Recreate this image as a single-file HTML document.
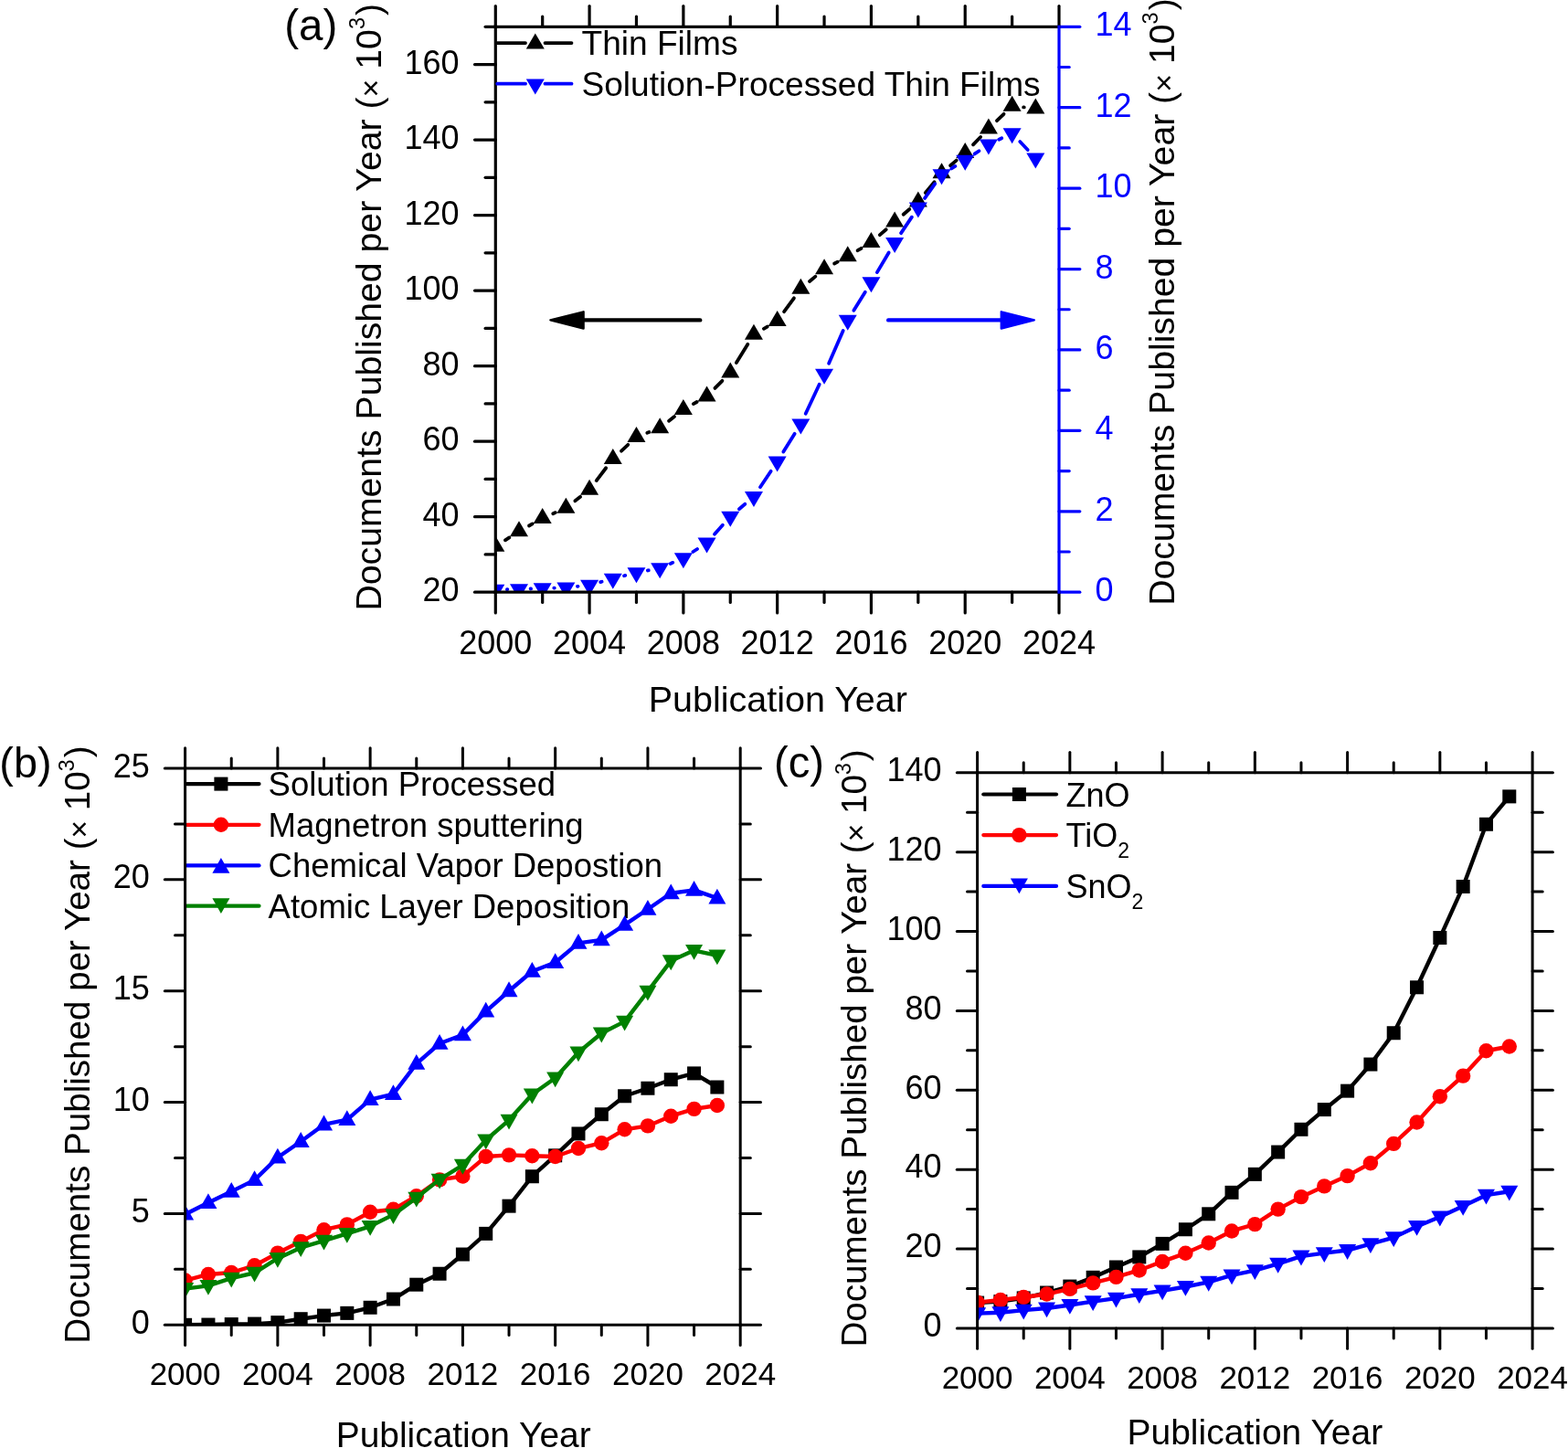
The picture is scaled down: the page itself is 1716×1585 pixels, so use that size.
<!DOCTYPE html>
<html><head><meta charset="utf-8"><title>Documents published per year</title>
<style>html,body{margin:0;padding:0;background:#fff;}svg{display:block;}</style>
</head><body>
<svg width="1716" height="1585" viewBox="0 0 1716 1585" style="font-family:'Liberation Sans',Arial,sans-serif">
<rect width="1716" height="1585" fill="#fff"/>
<defs>
<clipPath id="ca"><rect x="542.3" y="29.3" width="616.7" height="618.9"/></clipPath>
<clipPath id="cb"><rect x="202.6" y="841" width="607.6" height="609.3"/></clipPath>
<clipPath id="cc"><rect x="1069.6" y="845.8" width="607.5" height="608.1"/></clipPath>
</defs>
<g id="chart-a">
<g clip-path="url(#ca)">
<line x1="552.9" y1="591.33" x2="557.39" y2="588.44" stroke="#000000" stroke-width="3.8" stroke-linecap="round"/>
<line x1="579.01" y1="575.51" x2="582.68" y2="573.46" stroke="#000000" stroke-width="3.8" stroke-linecap="round"/>
<line x1="605.23" y1="562.26" x2="607.85" y2="561.11" stroke="#000000" stroke-width="3.8" stroke-linecap="round"/>
<line x1="629.35" y1="548.32" x2="635.12" y2="543.85" stroke="#000000" stroke-width="3.8" stroke-linecap="round"/>
<line x1="652.69" y1="526.09" x2="663.17" y2="512.27" stroke="#000000" stroke-width="3.8" stroke-linecap="round"/>
<line x1="679.99" y1="493.63" x2="687.27" y2="486.83" stroke="#000000" stroke-width="3.8" stroke-linecap="round"/>
<line x1="708.28" y1="473.82" x2="710.37" y2="473.04" stroke="#000000" stroke-width="3.8" stroke-linecap="round"/>
<line x1="732.04" y1="460.8" x2="738" y2="456.07" stroke="#000000" stroke-width="3.8" stroke-linecap="round"/>
<line x1="758.86" y1="442.07" x2="762.57" y2="439.99" stroke="#000000" stroke-width="3.8" stroke-linecap="round"/>
<line x1="782.42" y1="424.87" x2="790.4" y2="416.8" stroke="#000000" stroke-width="3.8" stroke-linecap="round"/>
<line x1="805.86" y1="397.1" x2="818.36" y2="376.77" stroke="#000000" stroke-width="3.8" stroke-linecap="round"/>
<line x1="835.89" y1="359.78" x2="839.71" y2="357.59" stroke="#000000" stroke-width="3.8" stroke-linecap="round"/>
<line x1="858.08" y1="341.16" x2="868.92" y2="326.31" stroke="#000000" stroke-width="3.8" stroke-linecap="round"/>
<line x1="885.99" y1="308.03" x2="892.4" y2="302.64" stroke="#000000" stroke-width="3.8" stroke-linecap="round"/>
<line x1="913.12" y1="288.54" x2="916.66" y2="286.63" stroke="#000000" stroke-width="3.8" stroke-linecap="round"/>
<line x1="938.58" y1="274.22" x2="942.59" y2="271.85" stroke="#000000" stroke-width="3.8" stroke-linecap="round"/>
<line x1="962.91" y1="257.13" x2="969.65" y2="251.23" stroke="#000000" stroke-width="3.8" stroke-linecap="round"/>
<line x1="988.66" y1="234.7" x2="995.29" y2="228.97" stroke="#000000" stroke-width="3.8" stroke-linecap="round"/>
<line x1="1012.84" y1="211.01" x2="1022.51" y2="199.26" stroke="#000000" stroke-width="3.8" stroke-linecap="round"/>
<line x1="1040.06" y1="181.3" x2="1046.68" y2="175.57" stroke="#000000" stroke-width="3.8" stroke-linecap="round"/>
<line x1="1065" y1="158.3" x2="1073.12" y2="149.96" stroke="#000000" stroke-width="3.8" stroke-linecap="round"/>
<line x1="1090.96" y1="132.17" x2="1098.56" y2="124.8" stroke="#000000" stroke-width="3.8" stroke-linecap="round"/>
<line x1="1120.14" y1="117.35" x2="1120.77" y2="117.42" stroke="#000000" stroke-width="3.8" stroke-linecap="round"/>
<line x1="554.9" y1="645.15" x2="555.4" y2="645.14" stroke="#0000FF" stroke-width="3.8" stroke-linecap="round"/>
<line x1="580.59" y1="644.49" x2="581.1" y2="644.47" stroke="#0000FF" stroke-width="3.8" stroke-linecap="round"/>
<line x1="606.28" y1="643.61" x2="606.79" y2="643.59" stroke="#0000FF" stroke-width="3.8" stroke-linecap="round"/>
<line x1="631.92" y1="641.86" x2="632.55" y2="641.8" stroke="#0000FF" stroke-width="3.8" stroke-linecap="round"/>
<line x1="657.23" y1="637.16" x2="658.63" y2="636.77" stroke="#0000FF" stroke-width="3.8" stroke-linecap="round"/>
<line x1="682.98" y1="630.28" x2="684.27" y2="629.95" stroke="#0000FF" stroke-width="3.8" stroke-linecap="round"/>
<line x1="708.86" y1="624.46" x2="709.79" y2="624.28" stroke="#0000FF" stroke-width="3.8" stroke-linecap="round"/>
<line x1="733.75" y1="616.96" x2="736.29" y2="615.86" stroke="#0000FF" stroke-width="3.8" stroke-linecap="round"/>
<line x1="758.41" y1="603.99" x2="763.02" y2="600.98" stroke="#0000FF" stroke-width="3.8" stroke-linecap="round"/>
<line x1="781.96" y1="584.69" x2="790.86" y2="574.74" stroke="#0000FF" stroke-width="3.8" stroke-linecap="round"/>
<line x1="808.89" y1="557.23" x2="815.32" y2="551.81" stroke="#0000FF" stroke-width="3.8" stroke-linecap="round"/>
<line x1="831.95" y1="533.21" x2="843.65" y2="515.71" stroke="#0000FF" stroke-width="3.8" stroke-linecap="round"/>
<line x1="857.33" y1="494.55" x2="869.67" y2="474.8" stroke="#0000FF" stroke-width="3.8" stroke-linecap="round"/>
<line x1="881.69" y1="452.71" x2="896.69" y2="420.71" stroke="#0000FF" stroke-width="3.8" stroke-linecap="round"/>
<line x1="907.09" y1="397.75" x2="922.69" y2="362.05" stroke="#0000FF" stroke-width="3.8" stroke-linecap="round"/>
<line x1="934.36" y1="339.79" x2="946.81" y2="319.67" stroke="#0000FF" stroke-width="3.8" stroke-linecap="round"/>
<line x1="959.86" y1="298.11" x2="972.7" y2="276.46" stroke="#0000FF" stroke-width="3.8" stroke-linecap="round"/>
<line x1="986.13" y1="255.15" x2="997.83" y2="237.64" stroke="#0000FF" stroke-width="3.8" stroke-linecap="round"/>
<line x1="1012.11" y1="216.89" x2="1023.23" y2="201.2" stroke="#0000FF" stroke-width="3.8" stroke-linecap="round"/>
<line x1="1041.32" y1="184.42" x2="1045.42" y2="181.94" stroke="#0000FF" stroke-width="3.8" stroke-linecap="round"/>
<line x1="1066.68" y1="168.42" x2="1071.45" y2="165.22" stroke="#0000FF" stroke-width="3.8" stroke-linecap="round"/>
<line x1="1093.26" y1="152.74" x2="1096.26" y2="151.29" stroke="#0000FF" stroke-width="3.8" stroke-linecap="round"/>
<line x1="1116.23" y1="155.02" x2="1124.69" y2="164.04" stroke="#0000FF" stroke-width="3.8" stroke-linecap="round"/>
<path d="M542.3 586.8L552.3 603.8L532.3 603.8Z" fill="#000000"/>
<path d="M568 570.3L578 587.3L558 587.3Z" fill="#000000"/>
<path d="M593.69 556L603.69 573L583.69 573Z" fill="#000000"/>
<path d="M619.39 544.7L629.39 561.7L609.39 561.7Z" fill="#000000"/>
<path d="M645.08 524.8L655.08 541.8L635.08 541.8Z" fill="#000000"/>
<path d="M670.78 490.9L680.78 507.9L660.78 507.9Z" fill="#000000"/>
<path d="M696.47 466.9L706.47 483.9L686.47 483.9Z" fill="#000000"/>
<path d="M722.17 457.3L732.17 474.3L712.17 474.3Z" fill="#000000"/>
<path d="M747.87 436.9L757.87 453.9L737.87 453.9Z" fill="#000000"/>
<path d="M773.56 422.5L783.56 439.5L763.56 439.5Z" fill="#000000"/>
<path d="M799.26 396.5L809.26 413.5L789.26 413.5Z" fill="#000000"/>
<path d="M824.95 354.7L834.95 371.7L814.95 371.7Z" fill="#000000"/>
<path d="M850.65 340L860.65 357L840.65 357Z" fill="#000000"/>
<path d="M876.35 304.8L886.35 321.8L866.35 321.8Z" fill="#000000"/>
<path d="M902.04 283.2L912.04 300.2L892.04 300.2Z" fill="#000000"/>
<path d="M927.74 269.3L937.74 286.3L917.74 286.3Z" fill="#000000"/>
<path d="M953.43 254.1L963.43 271.1L943.43 271.1Z" fill="#000000"/>
<path d="M979.13 231.6L989.13 248.6L969.13 248.6Z" fill="#000000"/>
<path d="M1004.83 209.4L1014.83 226.4L994.83 226.4Z" fill="#000000"/>
<path d="M1030.52 178.2L1040.52 195.2L1020.52 195.2Z" fill="#000000"/>
<path d="M1056.22 156L1066.22 173L1046.22 173Z" fill="#000000"/>
<path d="M1081.91 129.6L1091.91 146.6L1071.91 146.6Z" fill="#000000"/>
<path d="M1107.61 104.7L1117.61 121.7L1097.61 121.7Z" fill="#000000"/>
<path d="M1133.3 107.4L1143.3 124.4L1123.3 124.4Z" fill="#000000"/>
<path d="M532.3 639.7L552.3 639.7L542.3 656.7Z" fill="#0000FF"/>
<path d="M558 639.26L578 639.26L568 656.26Z" fill="#0000FF"/>
<path d="M583.69 638.37L603.69 638.37L593.69 655.37Z" fill="#0000FF"/>
<path d="M609.39 637.49L629.39 637.49L619.39 654.49Z" fill="#0000FF"/>
<path d="M635.08 634.84L655.08 634.84L645.08 651.84Z" fill="#0000FF"/>
<path d="M660.78 627.76L680.78 627.76L670.78 644.76Z" fill="#0000FF"/>
<path d="M686.47 621.13L706.47 621.13L696.47 638.13Z" fill="#0000FF"/>
<path d="M712.17 616.27L732.17 616.27L722.17 633.27Z" fill="#0000FF"/>
<path d="M737.87 605.22L757.87 605.22L747.87 622.22Z" fill="#0000FF"/>
<path d="M763.56 588.42L783.56 588.42L773.56 605.42Z" fill="#0000FF"/>
<path d="M789.26 559.69L809.26 559.69L799.26 576.69Z" fill="#0000FF"/>
<path d="M814.95 538.02L834.95 538.02L824.95 555.02Z" fill="#0000FF"/>
<path d="M840.65 499.56L860.65 499.56L850.65 516.56Z" fill="#0000FF"/>
<path d="M866.35 458.45L886.35 458.45L876.35 475.45Z" fill="#0000FF"/>
<path d="M892.04 403.63L912.04 403.63L902.04 420.63Z" fill="#0000FF"/>
<path d="M917.74 344.84L937.74 344.84L927.74 361.84Z" fill="#0000FF"/>
<path d="M943.43 303.28L963.43 303.28L953.43 320.28Z" fill="#0000FF"/>
<path d="M969.13 259.96L989.13 259.96L979.13 276.96Z" fill="#0000FF"/>
<path d="M994.83 221.5L1014.83 221.5L1004.83 238.5Z" fill="#0000FF"/>
<path d="M1020.52 185.25L1040.52 185.25L1030.52 202.25Z" fill="#0000FF"/>
<path d="M1046.22 169.78L1066.22 169.78L1056.22 186.78Z" fill="#0000FF"/>
<path d="M1071.91 152.54L1091.91 152.54L1081.91 169.54Z" fill="#0000FF"/>
<path d="M1097.61 140.16L1117.61 140.16L1107.61 157.16Z" fill="#0000FF"/>
<path d="M1123.3 167.57L1143.3 167.57L1133.3 184.57Z" fill="#0000FF"/>
</g>
<line x1="542.3" y1="648.2" x2="542.3" y2="671" stroke="#000" stroke-width="3.2" stroke-linecap="round"/>
<line x1="542.3" y1="29.3" x2="542.3" y2="6.5" stroke="#000" stroke-width="3.2" stroke-linecap="round"/>
<line x1="593.69" y1="648.2" x2="593.69" y2="659.4" stroke="#000" stroke-width="3.2" stroke-linecap="round"/>
<line x1="593.69" y1="29.3" x2="593.69" y2="18.1" stroke="#000" stroke-width="3.2" stroke-linecap="round"/>
<line x1="645.08" y1="648.2" x2="645.08" y2="671" stroke="#000" stroke-width="3.2" stroke-linecap="round"/>
<line x1="645.08" y1="29.3" x2="645.08" y2="6.5" stroke="#000" stroke-width="3.2" stroke-linecap="round"/>
<line x1="696.47" y1="648.2" x2="696.47" y2="659.4" stroke="#000" stroke-width="3.2" stroke-linecap="round"/>
<line x1="696.47" y1="29.3" x2="696.47" y2="18.1" stroke="#000" stroke-width="3.2" stroke-linecap="round"/>
<line x1="747.87" y1="648.2" x2="747.87" y2="671" stroke="#000" stroke-width="3.2" stroke-linecap="round"/>
<line x1="747.87" y1="29.3" x2="747.87" y2="6.5" stroke="#000" stroke-width="3.2" stroke-linecap="round"/>
<line x1="799.26" y1="648.2" x2="799.26" y2="659.4" stroke="#000" stroke-width="3.2" stroke-linecap="round"/>
<line x1="799.26" y1="29.3" x2="799.26" y2="18.1" stroke="#000" stroke-width="3.2" stroke-linecap="round"/>
<line x1="850.65" y1="648.2" x2="850.65" y2="671" stroke="#000" stroke-width="3.2" stroke-linecap="round"/>
<line x1="850.65" y1="29.3" x2="850.65" y2="6.5" stroke="#000" stroke-width="3.2" stroke-linecap="round"/>
<line x1="902.04" y1="648.2" x2="902.04" y2="659.4" stroke="#000" stroke-width="3.2" stroke-linecap="round"/>
<line x1="902.04" y1="29.3" x2="902.04" y2="18.1" stroke="#000" stroke-width="3.2" stroke-linecap="round"/>
<line x1="953.43" y1="648.2" x2="953.43" y2="671" stroke="#000" stroke-width="3.2" stroke-linecap="round"/>
<line x1="953.43" y1="29.3" x2="953.43" y2="6.5" stroke="#000" stroke-width="3.2" stroke-linecap="round"/>
<line x1="1004.83" y1="648.2" x2="1004.83" y2="659.4" stroke="#000" stroke-width="3.2" stroke-linecap="round"/>
<line x1="1004.83" y1="29.3" x2="1004.83" y2="18.1" stroke="#000" stroke-width="3.2" stroke-linecap="round"/>
<line x1="1056.22" y1="648.2" x2="1056.22" y2="671" stroke="#000" stroke-width="3.2" stroke-linecap="round"/>
<line x1="1056.22" y1="29.3" x2="1056.22" y2="6.5" stroke="#000" stroke-width="3.2" stroke-linecap="round"/>
<line x1="1107.61" y1="648.2" x2="1107.61" y2="659.4" stroke="#000" stroke-width="3.2" stroke-linecap="round"/>
<line x1="1107.61" y1="29.3" x2="1107.61" y2="18.1" stroke="#000" stroke-width="3.2" stroke-linecap="round"/>
<line x1="1159" y1="648.2" x2="1159" y2="671" stroke="#000" stroke-width="3.2" stroke-linecap="round"/>
<line x1="1159" y1="29.3" x2="1159" y2="6.5" stroke="#000" stroke-width="3.2" stroke-linecap="round"/>
<line x1="519.5" y1="648.2" x2="542.3" y2="648.2" stroke="#000" stroke-width="3.2" stroke-linecap="round"/>
<line x1="531.1" y1="606.94" x2="542.3" y2="606.94" stroke="#000" stroke-width="3.2" stroke-linecap="round"/>
<line x1="519.5" y1="565.68" x2="542.3" y2="565.68" stroke="#000" stroke-width="3.2" stroke-linecap="round"/>
<line x1="531.1" y1="524.42" x2="542.3" y2="524.42" stroke="#000" stroke-width="3.2" stroke-linecap="round"/>
<line x1="519.5" y1="483.16" x2="542.3" y2="483.16" stroke="#000" stroke-width="3.2" stroke-linecap="round"/>
<line x1="531.1" y1="441.9" x2="542.3" y2="441.9" stroke="#000" stroke-width="3.2" stroke-linecap="round"/>
<line x1="519.5" y1="400.64" x2="542.3" y2="400.64" stroke="#000" stroke-width="3.2" stroke-linecap="round"/>
<line x1="531.1" y1="359.38" x2="542.3" y2="359.38" stroke="#000" stroke-width="3.2" stroke-linecap="round"/>
<line x1="519.5" y1="318.12" x2="542.3" y2="318.12" stroke="#000" stroke-width="3.2" stroke-linecap="round"/>
<line x1="531.1" y1="276.86" x2="542.3" y2="276.86" stroke="#000" stroke-width="3.2" stroke-linecap="round"/>
<line x1="519.5" y1="235.6" x2="542.3" y2="235.6" stroke="#000" stroke-width="3.2" stroke-linecap="round"/>
<line x1="531.1" y1="194.34" x2="542.3" y2="194.34" stroke="#000" stroke-width="3.2" stroke-linecap="round"/>
<line x1="519.5" y1="153.08" x2="542.3" y2="153.08" stroke="#000" stroke-width="3.2" stroke-linecap="round"/>
<line x1="531.1" y1="111.82" x2="542.3" y2="111.82" stroke="#000" stroke-width="3.2" stroke-linecap="round"/>
<line x1="519.5" y1="70.56" x2="542.3" y2="70.56" stroke="#000" stroke-width="3.2" stroke-linecap="round"/>
<line x1="531.1" y1="29.3" x2="542.3" y2="29.3" stroke="#000" stroke-width="3.2" stroke-linecap="round"/>
<line x1="1159" y1="648.2" x2="1181.8" y2="648.2" stroke="#0000FF" stroke-width="3.2" stroke-linecap="round"/>
<line x1="1159" y1="603.99" x2="1170.2" y2="603.99" stroke="#0000FF" stroke-width="3.2" stroke-linecap="round"/>
<line x1="1159" y1="559.79" x2="1181.8" y2="559.79" stroke="#0000FF" stroke-width="3.2" stroke-linecap="round"/>
<line x1="1159" y1="515.58" x2="1170.2" y2="515.58" stroke="#0000FF" stroke-width="3.2" stroke-linecap="round"/>
<line x1="1159" y1="471.37" x2="1181.8" y2="471.37" stroke="#0000FF" stroke-width="3.2" stroke-linecap="round"/>
<line x1="1159" y1="427.16" x2="1170.2" y2="427.16" stroke="#0000FF" stroke-width="3.2" stroke-linecap="round"/>
<line x1="1159" y1="382.96" x2="1181.8" y2="382.96" stroke="#0000FF" stroke-width="3.2" stroke-linecap="round"/>
<line x1="1159" y1="338.75" x2="1170.2" y2="338.75" stroke="#0000FF" stroke-width="3.2" stroke-linecap="round"/>
<line x1="1159" y1="294.54" x2="1181.8" y2="294.54" stroke="#0000FF" stroke-width="3.2" stroke-linecap="round"/>
<line x1="1159" y1="250.34" x2="1170.2" y2="250.34" stroke="#0000FF" stroke-width="3.2" stroke-linecap="round"/>
<line x1="1159" y1="206.13" x2="1181.8" y2="206.13" stroke="#0000FF" stroke-width="3.2" stroke-linecap="round"/>
<line x1="1159" y1="161.92" x2="1170.2" y2="161.92" stroke="#0000FF" stroke-width="3.2" stroke-linecap="round"/>
<line x1="1159" y1="117.71" x2="1181.8" y2="117.71" stroke="#0000FF" stroke-width="3.2" stroke-linecap="round"/>
<line x1="1159" y1="73.51" x2="1170.2" y2="73.51" stroke="#0000FF" stroke-width="3.2" stroke-linecap="round"/>
<line x1="1159" y1="29.3" x2="1181.8" y2="29.3" stroke="#0000FF" stroke-width="3.2" stroke-linecap="round"/>
<line x1="540.7" y1="648.2" x2="1160.6" y2="648.2" stroke="#000" stroke-width="3.2" stroke-linecap="butt"/>
<line x1="540.7" y1="29.3" x2="1160.6" y2="29.3" stroke="#000" stroke-width="3.2" stroke-linecap="butt"/>
<line x1="542.3" y1="27.7" x2="542.3" y2="649.8" stroke="#000" stroke-width="3.2" stroke-linecap="butt"/>
<line x1="1159" y1="27.7" x2="1159" y2="649.8" stroke="#0000FF" stroke-width="3.2" stroke-linecap="butt"/>
<text x="542.3" y="715.5" font-size="36" text-anchor="middle" fill="#000">2000</text>
<text x="645.08" y="715.5" font-size="36" text-anchor="middle" fill="#000">2004</text>
<text x="747.87" y="715.5" font-size="36" text-anchor="middle" fill="#000">2008</text>
<text x="850.65" y="715.5" font-size="36" text-anchor="middle" fill="#000">2012</text>
<text x="953.43" y="715.5" font-size="36" text-anchor="middle" fill="#000">2016</text>
<text x="1056.22" y="715.5" font-size="36" text-anchor="middle" fill="#000">2020</text>
<text x="1159" y="715.5" font-size="36" text-anchor="middle" fill="#000">2024</text>
<text x="502.6" y="658.3" font-size="36" text-anchor="end" fill="#000">20</text>
<text x="502.6" y="575.78" font-size="36" text-anchor="end" fill="#000">40</text>
<text x="502.6" y="493.26" font-size="36" text-anchor="end" fill="#000">60</text>
<text x="502.6" y="410.74" font-size="36" text-anchor="end" fill="#000">80</text>
<text x="502.6" y="328.22" font-size="36" text-anchor="end" fill="#000">100</text>
<text x="502.6" y="245.7" font-size="36" text-anchor="end" fill="#000">120</text>
<text x="502.6" y="163.18" font-size="36" text-anchor="end" fill="#000">140</text>
<text x="502.6" y="80.66" font-size="36" text-anchor="end" fill="#000">160</text>
<text x="1198.5" y="658.3" font-size="36" text-anchor="start" fill="#0000FF">0</text>
<text x="1198.5" y="569.89" font-size="36" text-anchor="start" fill="#0000FF">2</text>
<text x="1198.5" y="481.47" font-size="36" text-anchor="start" fill="#0000FF">4</text>
<text x="1198.5" y="393.06" font-size="36" text-anchor="start" fill="#0000FF">6</text>
<text x="1198.5" y="304.64" font-size="36" text-anchor="start" fill="#0000FF">8</text>
<text x="1198.5" y="216.23" font-size="36" text-anchor="start" fill="#0000FF">10</text>
<text x="1198.5" y="127.81" font-size="36" text-anchor="start" fill="#0000FF">12</text>
<text x="1198.5" y="39.4" font-size="36" text-anchor="start" fill="#0000FF">14</text>
<line x1="544.2" y1="47.1" x2="575" y2="47.1" stroke="#000000" stroke-width="3.8" stroke-linecap="round"/>
<line x1="596.5" y1="47.1" x2="625.5" y2="47.1" stroke="#000000" stroke-width="3.8" stroke-linecap="round"/>
<path d="M585.8 36.5L595.8 53.5L575.8 53.5Z" fill="#000000"/>
<line x1="544.2" y1="91.7" x2="575" y2="91.7" stroke="#0000FF" stroke-width="3.8" stroke-linecap="round"/>
<line x1="596.5" y1="91.7" x2="625.5" y2="91.7" stroke="#0000FF" stroke-width="3.8" stroke-linecap="round"/>
<path d="M575.8 86.5L595.8 86.5L585.8 103.5Z" fill="#0000FF"/>
<text x="636.5" y="60.4" font-size="37.1" text-anchor="start" fill="#000">Thin Films</text>
<text x="636.5" y="105.2" font-size="37.1" text-anchor="start" fill="#000">Solution-Processed Thin Films</text>
<line x1="638" y1="350.4" x2="766.2" y2="350.4" stroke="#000000" stroke-width="4.4" stroke-linecap="round"/>
<path d="M602.4 350.4L638.6 341.3L638.6 359.5Z" fill="#000" stroke="#000" stroke-width="2.4" stroke-linejoin="round"/>
<line x1="972.2" y1="350.4" x2="1095" y2="350.4" stroke="#0000FF" stroke-width="4.4" stroke-linecap="round"/>
<path d="M1131.8 350.4L1095.8 341.3L1095.8 359.5Z" fill="#0000FF" stroke="#0000FF" stroke-width="2.4" stroke-linejoin="round"/>
<text x="851.3" y="779.3" font-size="39.5" text-anchor="middle" fill="#000">Publication Year</text>
<text transform="translate(416.7 336.25) rotate(-90)" font-size="39.2" text-anchor="middle">Documents Published per Year (<tspan font-size="0.87em">&#215;</tspan> 10<tspan font-size="0.6em" dy="-0.75em">3</tspan><tspan dy="0.45em" dx="2">)</tspan></text>
<text transform="translate(1284.5 330.55) rotate(-90)" font-size="39.2" text-anchor="middle">Documents Published per Year (<tspan font-size="0.87em">&#215;</tspan> 10<tspan font-size="0.6em" dy="-0.75em">3</tspan><tspan dy="0.45em" dx="2">)</tspan></text>
<text x="311.3" y="44.1" font-size="47.5" text-anchor="start" fill="#000">(a)</text>
</g>
<g id="chart-b">
<line x1="204.6" y1="858.1" x2="283.5" y2="858.1" stroke="#000000" stroke-width="4.2" stroke-linecap="round"/>
<rect x="234.4" y="850.6" width="15" height="15" fill="#000000"/>
<text x="293.6" y="871.1" font-size="36.5" text-anchor="start" fill="#000">Solution Processed</text>
<line x1="204.6" y1="902.8" x2="283.5" y2="902.8" stroke="#FF0000" stroke-width="4.2" stroke-linecap="round"/>
<circle cx="241.9" cy="902.8" r="8.2" fill="#FF0000"/>
<text x="293.6" y="915.8" font-size="36.5" text-anchor="start" fill="#000">Magnetron sputtering</text>
<line x1="204.6" y1="947.4" x2="283.5" y2="947.4" stroke="#0000FF" stroke-width="4.2" stroke-linecap="round"/>
<path d="M241.9 939L251.4 955.8L232.4 955.8Z" fill="#0000FF"/>
<text x="293.6" y="960.4" font-size="36.5" text-anchor="start" fill="#000">Chemical Vapor Depostion</text>
<line x1="204.6" y1="991.7" x2="283.5" y2="991.7" stroke="#008000" stroke-width="4.2" stroke-linecap="round"/>
<path d="M232.4 983.3L251.4 983.3L241.9 1000.1Z" fill="#008000"/>
<text x="293.6" y="1004.7" font-size="36.5" text-anchor="start" fill="#000">Atomic Layer Deposition</text>
<g clip-path="url(#cb)">
<path d="M202.6 1450.3 L227.92 1450.06 L253.23 1449.57 L278.55 1449.08 L303.87 1447.62 L329.18 1443.72 L354.5 1440.06 L379.82 1437.38 L405.13 1431.29 L430.45 1422.03 L455.77 1406.19 L481.08 1394.24 L506.4 1373.04 L531.72 1350.37 L557.03 1320.15 L582.35 1287.74 L607.67 1264.83 L632.98 1240.94 L658.3 1219.74 L683.62 1199.76 L708.93 1191.23 L734.25 1181.72 L759.57 1174.9 L784.88 1190.01" fill="none" stroke="#000000" stroke-width="4.4" stroke-linejoin="round" stroke-linecap="round"/>
<rect x="195.1" y="1442.8" width="15" height="15" fill="#000000"/>
<rect x="220.42" y="1442.56" width="15" height="15" fill="#000000"/>
<rect x="245.73" y="1442.07" width="15" height="15" fill="#000000"/>
<rect x="271.05" y="1441.58" width="15" height="15" fill="#000000"/>
<rect x="296.37" y="1440.12" width="15" height="15" fill="#000000"/>
<rect x="321.68" y="1436.22" width="15" height="15" fill="#000000"/>
<rect x="347" y="1432.56" width="15" height="15" fill="#000000"/>
<rect x="372.32" y="1429.88" width="15" height="15" fill="#000000"/>
<rect x="397.63" y="1423.79" width="15" height="15" fill="#000000"/>
<rect x="422.95" y="1414.53" width="15" height="15" fill="#000000"/>
<rect x="448.27" y="1398.69" width="15" height="15" fill="#000000"/>
<rect x="473.58" y="1386.74" width="15" height="15" fill="#000000"/>
<rect x="498.9" y="1365.54" width="15" height="15" fill="#000000"/>
<rect x="524.22" y="1342.87" width="15" height="15" fill="#000000"/>
<rect x="549.53" y="1312.65" width="15" height="15" fill="#000000"/>
<rect x="574.85" y="1280.24" width="15" height="15" fill="#000000"/>
<rect x="600.17" y="1257.33" width="15" height="15" fill="#000000"/>
<rect x="625.48" y="1233.44" width="15" height="15" fill="#000000"/>
<rect x="650.8" y="1212.24" width="15" height="15" fill="#000000"/>
<rect x="676.12" y="1192.26" width="15" height="15" fill="#000000"/>
<rect x="701.43" y="1183.73" width="15" height="15" fill="#000000"/>
<rect x="726.75" y="1174.22" width="15" height="15" fill="#000000"/>
<rect x="752.07" y="1167.4" width="15" height="15" fill="#000000"/>
<rect x="777.38" y="1182.51" width="15" height="15" fill="#000000"/>
<path d="M202.6 1401.56 L227.92 1394.98 L253.23 1393.03 L278.55 1385.23 L303.87 1371.58 L329.18 1358.9 L354.5 1346.23 L379.82 1340.38 L405.13 1326.73 L430.45 1323.81 L455.77 1309.19 L481.08 1291.39 L506.4 1287.5 L531.72 1266.05 L557.03 1264.34 L582.35 1265.32 L607.67 1266.05 L632.98 1257.03 L658.3 1251.18 L683.62 1236.31 L708.93 1232.41 L734.25 1221.69 L759.57 1213.89 L784.88 1209.99" fill="none" stroke="#FF0000" stroke-width="4.4" stroke-linejoin="round" stroke-linecap="round"/>
<circle cx="202.6" cy="1401.56" r="8.2" fill="#FF0000"/>
<circle cx="227.92" cy="1394.98" r="8.2" fill="#FF0000"/>
<circle cx="253.23" cy="1393.03" r="8.2" fill="#FF0000"/>
<circle cx="278.55" cy="1385.23" r="8.2" fill="#FF0000"/>
<circle cx="303.87" cy="1371.58" r="8.2" fill="#FF0000"/>
<circle cx="329.18" cy="1358.9" r="8.2" fill="#FF0000"/>
<circle cx="354.5" cy="1346.23" r="8.2" fill="#FF0000"/>
<circle cx="379.82" cy="1340.38" r="8.2" fill="#FF0000"/>
<circle cx="405.13" cy="1326.73" r="8.2" fill="#FF0000"/>
<circle cx="430.45" cy="1323.81" r="8.2" fill="#FF0000"/>
<circle cx="455.77" cy="1309.19" r="8.2" fill="#FF0000"/>
<circle cx="481.08" cy="1291.39" r="8.2" fill="#FF0000"/>
<circle cx="506.4" cy="1287.5" r="8.2" fill="#FF0000"/>
<circle cx="531.72" cy="1266.05" r="8.2" fill="#FF0000"/>
<circle cx="557.03" cy="1264.34" r="8.2" fill="#FF0000"/>
<circle cx="582.35" cy="1265.32" r="8.2" fill="#FF0000"/>
<circle cx="607.67" cy="1266.05" r="8.2" fill="#FF0000"/>
<circle cx="632.98" cy="1257.03" r="8.2" fill="#FF0000"/>
<circle cx="658.3" cy="1251.18" r="8.2" fill="#FF0000"/>
<circle cx="683.62" cy="1236.31" r="8.2" fill="#FF0000"/>
<circle cx="708.93" cy="1232.41" r="8.2" fill="#FF0000"/>
<circle cx="734.25" cy="1221.69" r="8.2" fill="#FF0000"/>
<circle cx="759.57" cy="1213.89" r="8.2" fill="#FF0000"/>
<circle cx="784.88" cy="1209.99" r="8.2" fill="#FF0000"/>
<path d="M202.6 1329.18 L227.92 1316.51 L253.23 1304.32 L278.55 1291.65 L303.87 1267.03 L329.18 1249.48 L354.5 1230.96 L379.82 1225.6 L405.13 1203.67 L430.45 1197.57 L455.77 1164.43 L481.08 1142.25 L506.4 1132.74 L531.72 1107.15 L557.03 1084.73 L582.35 1063.28 L607.67 1053.53 L632.98 1032.33 L658.3 1028.92 L683.62 1012.35 L708.93 995.28 L734.25 977.74 L759.57 974.33 L784.88 983.1" fill="none" stroke="#0000FF" stroke-width="4.4" stroke-linejoin="round" stroke-linecap="round"/>
<path d="M202.6 1318.82L212.1 1335.62L193.1 1335.62Z" fill="#0000FF"/>
<path d="M227.92 1306.15L237.42 1322.95L218.42 1322.95Z" fill="#0000FF"/>
<path d="M253.23 1293.96L262.73 1310.76L243.73 1310.76Z" fill="#0000FF"/>
<path d="M278.55 1281.29L288.05 1298.09L269.05 1298.09Z" fill="#0000FF"/>
<path d="M303.87 1256.67L313.37 1273.47L294.37 1273.47Z" fill="#0000FF"/>
<path d="M329.18 1239.12L338.68 1255.92L319.68 1255.92Z" fill="#0000FF"/>
<path d="M354.5 1220.6L364 1237.4L345 1237.4Z" fill="#0000FF"/>
<path d="M379.82 1215.24L389.32 1232.04L370.32 1232.04Z" fill="#0000FF"/>
<path d="M405.13 1193.31L414.63 1210.11L395.63 1210.11Z" fill="#0000FF"/>
<path d="M430.45 1187.21L439.95 1204.01L420.95 1204.01Z" fill="#0000FF"/>
<path d="M455.77 1154.07L465.27 1170.87L446.27 1170.87Z" fill="#0000FF"/>
<path d="M481.08 1131.89L490.58 1148.69L471.58 1148.69Z" fill="#0000FF"/>
<path d="M506.4 1122.38L515.9 1139.18L496.9 1139.18Z" fill="#0000FF"/>
<path d="M531.72 1096.79L541.22 1113.59L522.22 1113.59Z" fill="#0000FF"/>
<path d="M557.03 1074.37L566.53 1091.17L547.53 1091.17Z" fill="#0000FF"/>
<path d="M582.35 1052.92L591.85 1069.72L572.85 1069.72Z" fill="#0000FF"/>
<path d="M607.67 1043.17L617.17 1059.97L598.17 1059.97Z" fill="#0000FF"/>
<path d="M632.98 1021.97L642.48 1038.77L623.48 1038.77Z" fill="#0000FF"/>
<path d="M658.3 1018.56L667.8 1035.36L648.8 1035.36Z" fill="#0000FF"/>
<path d="M683.62 1001.99L693.12 1018.79L674.12 1018.79Z" fill="#0000FF"/>
<path d="M708.93 984.92L718.43 1001.72L699.43 1001.72Z" fill="#0000FF"/>
<path d="M734.25 967.38L743.75 984.18L724.75 984.18Z" fill="#0000FF"/>
<path d="M759.57 963.97L769.07 980.77L750.07 980.77Z" fill="#0000FF"/>
<path d="M784.88 972.74L794.38 989.54L775.38 989.54Z" fill="#0000FF"/>
<path d="M202.6 1410.56 L227.92 1407.4 L253.23 1399.11 L278.55 1393.26 L303.87 1377.42 L329.18 1365.72 L354.5 1358.16 L379.82 1350.36 L405.13 1342.32 L430.45 1329.65 L455.77 1311.13 L481.08 1291.14 L506.4 1275.3 L531.72 1248 L557.03 1226.07 L582.35 1198.04 L607.67 1180 L632.98 1151.98 L658.3 1131.02 L683.62 1118.1 L708.93 1085.2 L734.25 1051.81 L759.57 1040.35 L784.88 1045.96" fill="none" stroke="#008000" stroke-width="4.4" stroke-linejoin="round" stroke-linecap="round"/>
<path d="M193.1 1404.12L212.1 1404.12L202.6 1420.92Z" fill="#008000"/>
<path d="M218.42 1400.96L237.42 1400.96L227.92 1417.76Z" fill="#008000"/>
<path d="M243.73 1392.67L262.73 1392.67L253.23 1409.47Z" fill="#008000"/>
<path d="M269.05 1386.82L288.05 1386.82L278.55 1403.62Z" fill="#008000"/>
<path d="M294.37 1370.98L313.37 1370.98L303.87 1387.78Z" fill="#008000"/>
<path d="M319.68 1359.28L338.68 1359.28L329.18 1376.08Z" fill="#008000"/>
<path d="M345 1351.72L364 1351.72L354.5 1368.52Z" fill="#008000"/>
<path d="M370.32 1343.92L389.32 1343.92L379.82 1360.72Z" fill="#008000"/>
<path d="M395.63 1335.88L414.63 1335.88L405.13 1352.68Z" fill="#008000"/>
<path d="M420.95 1323.21L439.95 1323.21L430.45 1340.01Z" fill="#008000"/>
<path d="M446.27 1304.69L465.27 1304.69L455.77 1321.49Z" fill="#008000"/>
<path d="M471.58 1284.7L490.58 1284.7L481.08 1301.5Z" fill="#008000"/>
<path d="M496.9 1268.86L515.9 1268.86L506.4 1285.66Z" fill="#008000"/>
<path d="M522.22 1241.56L541.22 1241.56L531.72 1258.36Z" fill="#008000"/>
<path d="M547.53 1219.63L566.53 1219.63L557.03 1236.43Z" fill="#008000"/>
<path d="M572.85 1191.6L591.85 1191.6L582.35 1208.4Z" fill="#008000"/>
<path d="M598.17 1173.56L617.17 1173.56L607.67 1190.36Z" fill="#008000"/>
<path d="M623.48 1145.54L642.48 1145.54L632.98 1162.34Z" fill="#008000"/>
<path d="M648.8 1124.58L667.8 1124.58L658.3 1141.38Z" fill="#008000"/>
<path d="M674.12 1111.66L693.12 1111.66L683.62 1128.46Z" fill="#008000"/>
<path d="M699.43 1078.76L718.43 1078.76L708.93 1095.56Z" fill="#008000"/>
<path d="M724.75 1045.37L743.75 1045.37L734.25 1062.17Z" fill="#008000"/>
<path d="M750.07 1033.91L769.07 1033.91L759.57 1050.71Z" fill="#008000"/>
<path d="M775.38 1039.52L794.38 1039.52L784.88 1056.32Z" fill="#008000"/>
</g>
<line x1="202.6" y1="1450.3" x2="202.6" y2="1472.6" stroke="#000" stroke-width="3" stroke-linecap="round"/>
<line x1="202.6" y1="841" x2="202.6" y2="818.7" stroke="#000" stroke-width="3" stroke-linecap="round"/>
<line x1="253.23" y1="1450.3" x2="253.23" y2="1461.4" stroke="#000" stroke-width="3" stroke-linecap="round"/>
<line x1="253.23" y1="841" x2="253.23" y2="829.9" stroke="#000" stroke-width="3" stroke-linecap="round"/>
<line x1="303.87" y1="1450.3" x2="303.87" y2="1472.6" stroke="#000" stroke-width="3" stroke-linecap="round"/>
<line x1="303.87" y1="841" x2="303.87" y2="818.7" stroke="#000" stroke-width="3" stroke-linecap="round"/>
<line x1="354.5" y1="1450.3" x2="354.5" y2="1461.4" stroke="#000" stroke-width="3" stroke-linecap="round"/>
<line x1="354.5" y1="841" x2="354.5" y2="829.9" stroke="#000" stroke-width="3" stroke-linecap="round"/>
<line x1="405.13" y1="1450.3" x2="405.13" y2="1472.6" stroke="#000" stroke-width="3" stroke-linecap="round"/>
<line x1="405.13" y1="841" x2="405.13" y2="818.7" stroke="#000" stroke-width="3" stroke-linecap="round"/>
<line x1="455.77" y1="1450.3" x2="455.77" y2="1461.4" stroke="#000" stroke-width="3" stroke-linecap="round"/>
<line x1="455.77" y1="841" x2="455.77" y2="829.9" stroke="#000" stroke-width="3" stroke-linecap="round"/>
<line x1="506.4" y1="1450.3" x2="506.4" y2="1472.6" stroke="#000" stroke-width="3" stroke-linecap="round"/>
<line x1="506.4" y1="841" x2="506.4" y2="818.7" stroke="#000" stroke-width="3" stroke-linecap="round"/>
<line x1="557.03" y1="1450.3" x2="557.03" y2="1461.4" stroke="#000" stroke-width="3" stroke-linecap="round"/>
<line x1="557.03" y1="841" x2="557.03" y2="829.9" stroke="#000" stroke-width="3" stroke-linecap="round"/>
<line x1="607.67" y1="1450.3" x2="607.67" y2="1472.6" stroke="#000" stroke-width="3" stroke-linecap="round"/>
<line x1="607.67" y1="841" x2="607.67" y2="818.7" stroke="#000" stroke-width="3" stroke-linecap="round"/>
<line x1="658.3" y1="1450.3" x2="658.3" y2="1461.4" stroke="#000" stroke-width="3" stroke-linecap="round"/>
<line x1="658.3" y1="841" x2="658.3" y2="829.9" stroke="#000" stroke-width="3" stroke-linecap="round"/>
<line x1="708.93" y1="1450.3" x2="708.93" y2="1472.6" stroke="#000" stroke-width="3" stroke-linecap="round"/>
<line x1="708.93" y1="841" x2="708.93" y2="818.7" stroke="#000" stroke-width="3" stroke-linecap="round"/>
<line x1="759.57" y1="1450.3" x2="759.57" y2="1461.4" stroke="#000" stroke-width="3" stroke-linecap="round"/>
<line x1="759.57" y1="841" x2="759.57" y2="829.9" stroke="#000" stroke-width="3" stroke-linecap="round"/>
<line x1="810.2" y1="1450.3" x2="810.2" y2="1472.6" stroke="#000" stroke-width="3" stroke-linecap="round"/>
<line x1="810.2" y1="841" x2="810.2" y2="818.7" stroke="#000" stroke-width="3" stroke-linecap="round"/>
<line x1="180.3" y1="1450.3" x2="202.6" y2="1450.3" stroke="#000" stroke-width="3" stroke-linecap="round"/>
<line x1="191.5" y1="1389.37" x2="202.6" y2="1389.37" stroke="#000" stroke-width="3" stroke-linecap="round"/>
<line x1="180.3" y1="1328.44" x2="202.6" y2="1328.44" stroke="#000" stroke-width="3" stroke-linecap="round"/>
<line x1="191.5" y1="1267.51" x2="202.6" y2="1267.51" stroke="#000" stroke-width="3" stroke-linecap="round"/>
<line x1="180.3" y1="1206.58" x2="202.6" y2="1206.58" stroke="#000" stroke-width="3" stroke-linecap="round"/>
<line x1="191.5" y1="1145.65" x2="202.6" y2="1145.65" stroke="#000" stroke-width="3" stroke-linecap="round"/>
<line x1="180.3" y1="1084.72" x2="202.6" y2="1084.72" stroke="#000" stroke-width="3" stroke-linecap="round"/>
<line x1="191.5" y1="1023.79" x2="202.6" y2="1023.79" stroke="#000" stroke-width="3" stroke-linecap="round"/>
<line x1="180.3" y1="962.86" x2="202.6" y2="962.86" stroke="#000" stroke-width="3" stroke-linecap="round"/>
<line x1="191.5" y1="901.93" x2="202.6" y2="901.93" stroke="#000" stroke-width="3" stroke-linecap="round"/>
<line x1="180.3" y1="841" x2="202.6" y2="841" stroke="#000" stroke-width="3" stroke-linecap="round"/>
<line x1="810.2" y1="1450.3" x2="832.5" y2="1450.3" stroke="#000" stroke-width="3" stroke-linecap="round"/>
<line x1="810.2" y1="1389.37" x2="821.3" y2="1389.37" stroke="#000" stroke-width="3" stroke-linecap="round"/>
<line x1="810.2" y1="1328.44" x2="832.5" y2="1328.44" stroke="#000" stroke-width="3" stroke-linecap="round"/>
<line x1="810.2" y1="1267.51" x2="821.3" y2="1267.51" stroke="#000" stroke-width="3" stroke-linecap="round"/>
<line x1="810.2" y1="1206.58" x2="832.5" y2="1206.58" stroke="#000" stroke-width="3" stroke-linecap="round"/>
<line x1="810.2" y1="1145.65" x2="821.3" y2="1145.65" stroke="#000" stroke-width="3" stroke-linecap="round"/>
<line x1="810.2" y1="1084.72" x2="832.5" y2="1084.72" stroke="#000" stroke-width="3" stroke-linecap="round"/>
<line x1="810.2" y1="1023.79" x2="821.3" y2="1023.79" stroke="#000" stroke-width="3" stroke-linecap="round"/>
<line x1="810.2" y1="962.86" x2="832.5" y2="962.86" stroke="#000" stroke-width="3" stroke-linecap="round"/>
<line x1="810.2" y1="901.93" x2="821.3" y2="901.93" stroke="#000" stroke-width="3" stroke-linecap="round"/>
<line x1="810.2" y1="841" x2="832.5" y2="841" stroke="#000" stroke-width="3" stroke-linecap="round"/>
<line x1="201.1" y1="1450.3" x2="811.7" y2="1450.3" stroke="#000" stroke-width="3" stroke-linecap="butt"/>
<line x1="201.1" y1="841" x2="811.7" y2="841" stroke="#000" stroke-width="3" stroke-linecap="butt"/>
<line x1="202.6" y1="839.5" x2="202.6" y2="1451.8" stroke="#000" stroke-width="3" stroke-linecap="butt"/>
<line x1="810.2" y1="839.5" x2="810.2" y2="1451.8" stroke="#000" stroke-width="3" stroke-linecap="butt"/>
<text x="202.6" y="1516" font-size="35" text-anchor="middle" fill="#000">2000</text>
<text x="303.87" y="1516" font-size="35" text-anchor="middle" fill="#000">2004</text>
<text x="405.13" y="1516" font-size="35" text-anchor="middle" fill="#000">2008</text>
<text x="506.4" y="1516" font-size="35" text-anchor="middle" fill="#000">2012</text>
<text x="607.67" y="1516" font-size="35" text-anchor="middle" fill="#000">2016</text>
<text x="708.93" y="1516" font-size="35" text-anchor="middle" fill="#000">2020</text>
<text x="810.2" y="1516" font-size="35" text-anchor="middle" fill="#000">2024</text>
<text x="163.8" y="1459.9" font-size="36" text-anchor="end" fill="#000">0</text>
<text x="163.8" y="1338.04" font-size="36" text-anchor="end" fill="#000">5</text>
<text x="163.8" y="1216.18" font-size="36" text-anchor="end" fill="#000">10</text>
<text x="163.8" y="1094.32" font-size="36" text-anchor="end" fill="#000">15</text>
<text x="163.8" y="972.46" font-size="36" text-anchor="end" fill="#000">20</text>
<text x="163.8" y="850.6" font-size="36" text-anchor="end" fill="#000">25</text>
<text x="507.2" y="1583.6" font-size="38.9" text-anchor="middle" fill="#000">Publication Year</text>
<text transform="translate(98 1143.65) rotate(-90)" font-size="38.6" text-anchor="middle">Documents Published per Year (<tspan font-size="0.87em">&#215;</tspan> 10<tspan font-size="0.6em" dy="-0.75em">3</tspan><tspan dy="0.45em" dx="2">)</tspan></text>
<text x="-0.7" y="851.3" font-size="46.8" text-anchor="start" fill="#000">(b)</text>
</g>
<g id="chart-c">
<g clip-path="url(#cc)">
<path d="M1069.6 1426.1 L1094.91 1424.58 L1120.22 1420.89 L1145.54 1415.03 L1170.85 1408.08 L1196.16 1398.3 L1221.47 1387.01 L1246.79 1375.93 L1272.1 1361.38 L1297.41 1345.75 L1322.72 1328.81 L1348.04 1305.35 L1373.35 1285.37 L1398.66 1261.05 L1423.97 1236.29 L1449.29 1214.57 L1474.6 1194.15 L1499.91 1165.05 L1525.22 1130.74 L1550.54 1080.79 L1575.85 1026.49 L1601.16 970.46 L1626.47 902.27 L1651.79 871.86" fill="none" stroke="#000000" stroke-width="4.4" stroke-linejoin="round" stroke-linecap="round"/>
<rect x="1062.1" y="1418.6" width="15" height="15" fill="#000000"/>
<rect x="1087.41" y="1417.08" width="15" height="15" fill="#000000"/>
<rect x="1112.72" y="1413.39" width="15" height="15" fill="#000000"/>
<rect x="1138.04" y="1407.53" width="15" height="15" fill="#000000"/>
<rect x="1163.35" y="1400.58" width="15" height="15" fill="#000000"/>
<rect x="1188.66" y="1390.8" width="15" height="15" fill="#000000"/>
<rect x="1213.97" y="1379.51" width="15" height="15" fill="#000000"/>
<rect x="1239.29" y="1368.43" width="15" height="15" fill="#000000"/>
<rect x="1264.6" y="1353.88" width="15" height="15" fill="#000000"/>
<rect x="1289.91" y="1338.25" width="15" height="15" fill="#000000"/>
<rect x="1315.22" y="1321.31" width="15" height="15" fill="#000000"/>
<rect x="1340.54" y="1297.85" width="15" height="15" fill="#000000"/>
<rect x="1365.85" y="1277.87" width="15" height="15" fill="#000000"/>
<rect x="1391.16" y="1253.55" width="15" height="15" fill="#000000"/>
<rect x="1416.47" y="1228.79" width="15" height="15" fill="#000000"/>
<rect x="1441.79" y="1207.07" width="15" height="15" fill="#000000"/>
<rect x="1467.1" y="1186.65" width="15" height="15" fill="#000000"/>
<rect x="1492.41" y="1157.55" width="15" height="15" fill="#000000"/>
<rect x="1517.72" y="1123.24" width="15" height="15" fill="#000000"/>
<rect x="1543.04" y="1073.29" width="15" height="15" fill="#000000"/>
<rect x="1568.35" y="1018.99" width="15" height="15" fill="#000000"/>
<rect x="1593.66" y="962.96" width="15" height="15" fill="#000000"/>
<rect x="1618.97" y="894.77" width="15" height="15" fill="#000000"/>
<rect x="1644.29" y="864.36" width="15" height="15" fill="#000000"/>
<path d="M1069.6 1425.67 L1094.91 1423.06 L1120.22 1420.02 L1145.54 1416.55 L1170.85 1410.9 L1196.16 1404.38 L1221.47 1397.87 L1246.79 1390.48 L1272.1 1380.93 L1297.41 1371.81 L1322.72 1360.51 L1348.04 1347.48 L1373.35 1340.1 L1398.66 1323.59 L1423.97 1310.13 L1449.29 1298.4 L1474.6 1287.11 L1499.91 1273.21 L1525.22 1251.92 L1550.54 1228.47 L1575.85 1200.24 L1601.16 1177.65 L1626.47 1150.28 L1651.79 1145.51" fill="none" stroke="#FF0000" stroke-width="4.4" stroke-linejoin="round" stroke-linecap="round"/>
<circle cx="1069.6" cy="1425.67" r="8.2" fill="#FF0000"/>
<circle cx="1094.91" cy="1423.06" r="8.2" fill="#FF0000"/>
<circle cx="1120.22" cy="1420.02" r="8.2" fill="#FF0000"/>
<circle cx="1145.54" cy="1416.55" r="8.2" fill="#FF0000"/>
<circle cx="1170.85" cy="1410.9" r="8.2" fill="#FF0000"/>
<circle cx="1196.16" cy="1404.38" r="8.2" fill="#FF0000"/>
<circle cx="1221.47" cy="1397.87" r="8.2" fill="#FF0000"/>
<circle cx="1246.79" cy="1390.48" r="8.2" fill="#FF0000"/>
<circle cx="1272.1" cy="1380.93" r="8.2" fill="#FF0000"/>
<circle cx="1297.41" cy="1371.81" r="8.2" fill="#FF0000"/>
<circle cx="1322.72" cy="1360.51" r="8.2" fill="#FF0000"/>
<circle cx="1348.04" cy="1347.48" r="8.2" fill="#FF0000"/>
<circle cx="1373.35" cy="1340.1" r="8.2" fill="#FF0000"/>
<circle cx="1398.66" cy="1323.59" r="8.2" fill="#FF0000"/>
<circle cx="1423.97" cy="1310.13" r="8.2" fill="#FF0000"/>
<circle cx="1449.29" cy="1298.4" r="8.2" fill="#FF0000"/>
<circle cx="1474.6" cy="1287.11" r="8.2" fill="#FF0000"/>
<circle cx="1499.91" cy="1273.21" r="8.2" fill="#FF0000"/>
<circle cx="1525.22" cy="1251.92" r="8.2" fill="#FF0000"/>
<circle cx="1550.54" cy="1228.47" r="8.2" fill="#FF0000"/>
<circle cx="1575.85" cy="1200.24" r="8.2" fill="#FF0000"/>
<circle cx="1601.16" cy="1177.65" r="8.2" fill="#FF0000"/>
<circle cx="1626.47" cy="1150.28" r="8.2" fill="#FF0000"/>
<circle cx="1651.79" cy="1145.51" r="8.2" fill="#FF0000"/>
<path d="M1069.6 1437.61 L1094.91 1436.74 L1120.22 1434.13 L1145.54 1431.96 L1170.85 1428.48 L1196.16 1424.58 L1221.47 1421.1 L1246.79 1416.76 L1272.1 1412.85 L1297.41 1408.5 L1322.72 1403.29 L1348.04 1395.91 L1373.35 1390.7 L1398.66 1383.31 L1423.97 1375.06 L1449.29 1371.58 L1474.6 1368.54 L1499.91 1361.59 L1525.22 1354.64 L1550.54 1342.48 L1575.85 1332.06 L1601.16 1320.33 L1626.47 1308.17 L1651.79 1304.26" fill="none" stroke="#0000FF" stroke-width="4.4" stroke-linejoin="round" stroke-linecap="round"/>
<path d="M1060.1 1431.17L1079.1 1431.17L1069.6 1447.97Z" fill="#0000FF"/>
<path d="M1085.41 1430.3L1104.41 1430.3L1094.91 1447.1Z" fill="#0000FF"/>
<path d="M1110.72 1427.69L1129.72 1427.69L1120.22 1444.49Z" fill="#0000FF"/>
<path d="M1136.04 1425.52L1155.04 1425.52L1145.54 1442.32Z" fill="#0000FF"/>
<path d="M1161.35 1422.04L1180.35 1422.04L1170.85 1438.84Z" fill="#0000FF"/>
<path d="M1186.66 1418.14L1205.66 1418.14L1196.16 1434.94Z" fill="#0000FF"/>
<path d="M1211.97 1414.66L1230.97 1414.66L1221.47 1431.46Z" fill="#0000FF"/>
<path d="M1237.29 1410.32L1256.29 1410.32L1246.79 1427.12Z" fill="#0000FF"/>
<path d="M1262.6 1406.41L1281.6 1406.41L1272.1 1423.21Z" fill="#0000FF"/>
<path d="M1287.91 1402.06L1306.91 1402.06L1297.41 1418.86Z" fill="#0000FF"/>
<path d="M1313.22 1396.85L1332.22 1396.85L1322.72 1413.65Z" fill="#0000FF"/>
<path d="M1338.54 1389.47L1357.54 1389.47L1348.04 1406.27Z" fill="#0000FF"/>
<path d="M1363.85 1384.26L1382.85 1384.26L1373.35 1401.06Z" fill="#0000FF"/>
<path d="M1389.16 1376.87L1408.16 1376.87L1398.66 1393.67Z" fill="#0000FF"/>
<path d="M1414.47 1368.62L1433.47 1368.62L1423.97 1385.42Z" fill="#0000FF"/>
<path d="M1439.79 1365.14L1458.79 1365.14L1449.29 1381.94Z" fill="#0000FF"/>
<path d="M1465.1 1362.1L1484.1 1362.1L1474.6 1378.9Z" fill="#0000FF"/>
<path d="M1490.41 1355.15L1509.41 1355.15L1499.91 1371.95Z" fill="#0000FF"/>
<path d="M1515.72 1348.2L1534.72 1348.2L1525.22 1365Z" fill="#0000FF"/>
<path d="M1541.04 1336.04L1560.04 1336.04L1550.54 1352.84Z" fill="#0000FF"/>
<path d="M1566.35 1325.62L1585.35 1325.62L1575.85 1342.42Z" fill="#0000FF"/>
<path d="M1591.66 1313.89L1610.66 1313.89L1601.16 1330.69Z" fill="#0000FF"/>
<path d="M1616.97 1301.73L1635.97 1301.73L1626.47 1318.53Z" fill="#0000FF"/>
<path d="M1642.29 1297.82L1661.29 1297.82L1651.79 1314.62Z" fill="#0000FF"/>
</g>
<line x1="1069.6" y1="1453.9" x2="1069.6" y2="1476.2" stroke="#000" stroke-width="3" stroke-linecap="round"/>
<line x1="1069.6" y1="845.8" x2="1069.6" y2="823.5" stroke="#000" stroke-width="3" stroke-linecap="round"/>
<line x1="1120.22" y1="1453.9" x2="1120.22" y2="1465" stroke="#000" stroke-width="3" stroke-linecap="round"/>
<line x1="1120.22" y1="845.8" x2="1120.22" y2="834.7" stroke="#000" stroke-width="3" stroke-linecap="round"/>
<line x1="1170.85" y1="1453.9" x2="1170.85" y2="1476.2" stroke="#000" stroke-width="3" stroke-linecap="round"/>
<line x1="1170.85" y1="845.8" x2="1170.85" y2="823.5" stroke="#000" stroke-width="3" stroke-linecap="round"/>
<line x1="1221.47" y1="1453.9" x2="1221.47" y2="1465" stroke="#000" stroke-width="3" stroke-linecap="round"/>
<line x1="1221.47" y1="845.8" x2="1221.47" y2="834.7" stroke="#000" stroke-width="3" stroke-linecap="round"/>
<line x1="1272.1" y1="1453.9" x2="1272.1" y2="1476.2" stroke="#000" stroke-width="3" stroke-linecap="round"/>
<line x1="1272.1" y1="845.8" x2="1272.1" y2="823.5" stroke="#000" stroke-width="3" stroke-linecap="round"/>
<line x1="1322.72" y1="1453.9" x2="1322.72" y2="1465" stroke="#000" stroke-width="3" stroke-linecap="round"/>
<line x1="1322.72" y1="845.8" x2="1322.72" y2="834.7" stroke="#000" stroke-width="3" stroke-linecap="round"/>
<line x1="1373.35" y1="1453.9" x2="1373.35" y2="1476.2" stroke="#000" stroke-width="3" stroke-linecap="round"/>
<line x1="1373.35" y1="845.8" x2="1373.35" y2="823.5" stroke="#000" stroke-width="3" stroke-linecap="round"/>
<line x1="1423.97" y1="1453.9" x2="1423.97" y2="1465" stroke="#000" stroke-width="3" stroke-linecap="round"/>
<line x1="1423.97" y1="845.8" x2="1423.97" y2="834.7" stroke="#000" stroke-width="3" stroke-linecap="round"/>
<line x1="1474.6" y1="1453.9" x2="1474.6" y2="1476.2" stroke="#000" stroke-width="3" stroke-linecap="round"/>
<line x1="1474.6" y1="845.8" x2="1474.6" y2="823.5" stroke="#000" stroke-width="3" stroke-linecap="round"/>
<line x1="1525.22" y1="1453.9" x2="1525.22" y2="1465" stroke="#000" stroke-width="3" stroke-linecap="round"/>
<line x1="1525.22" y1="845.8" x2="1525.22" y2="834.7" stroke="#000" stroke-width="3" stroke-linecap="round"/>
<line x1="1575.85" y1="1453.9" x2="1575.85" y2="1476.2" stroke="#000" stroke-width="3" stroke-linecap="round"/>
<line x1="1575.85" y1="845.8" x2="1575.85" y2="823.5" stroke="#000" stroke-width="3" stroke-linecap="round"/>
<line x1="1626.47" y1="1453.9" x2="1626.47" y2="1465" stroke="#000" stroke-width="3" stroke-linecap="round"/>
<line x1="1626.47" y1="845.8" x2="1626.47" y2="834.7" stroke="#000" stroke-width="3" stroke-linecap="round"/>
<line x1="1677.1" y1="1453.9" x2="1677.1" y2="1476.2" stroke="#000" stroke-width="3" stroke-linecap="round"/>
<line x1="1677.1" y1="845.8" x2="1677.1" y2="823.5" stroke="#000" stroke-width="3" stroke-linecap="round"/>
<line x1="1047.3" y1="1453.9" x2="1069.6" y2="1453.9" stroke="#000" stroke-width="3" stroke-linecap="round"/>
<line x1="1058.5" y1="1410.46" x2="1069.6" y2="1410.46" stroke="#000" stroke-width="3" stroke-linecap="round"/>
<line x1="1047.3" y1="1367.03" x2="1069.6" y2="1367.03" stroke="#000" stroke-width="3" stroke-linecap="round"/>
<line x1="1058.5" y1="1323.59" x2="1069.6" y2="1323.59" stroke="#000" stroke-width="3" stroke-linecap="round"/>
<line x1="1047.3" y1="1280.16" x2="1069.6" y2="1280.16" stroke="#000" stroke-width="3" stroke-linecap="round"/>
<line x1="1058.5" y1="1236.72" x2="1069.6" y2="1236.72" stroke="#000" stroke-width="3" stroke-linecap="round"/>
<line x1="1047.3" y1="1193.29" x2="1069.6" y2="1193.29" stroke="#000" stroke-width="3" stroke-linecap="round"/>
<line x1="1058.5" y1="1149.85" x2="1069.6" y2="1149.85" stroke="#000" stroke-width="3" stroke-linecap="round"/>
<line x1="1047.3" y1="1106.41" x2="1069.6" y2="1106.41" stroke="#000" stroke-width="3" stroke-linecap="round"/>
<line x1="1058.5" y1="1062.98" x2="1069.6" y2="1062.98" stroke="#000" stroke-width="3" stroke-linecap="round"/>
<line x1="1047.3" y1="1019.54" x2="1069.6" y2="1019.54" stroke="#000" stroke-width="3" stroke-linecap="round"/>
<line x1="1058.5" y1="976.11" x2="1069.6" y2="976.11" stroke="#000" stroke-width="3" stroke-linecap="round"/>
<line x1="1047.3" y1="932.67" x2="1069.6" y2="932.67" stroke="#000" stroke-width="3" stroke-linecap="round"/>
<line x1="1058.5" y1="889.24" x2="1069.6" y2="889.24" stroke="#000" stroke-width="3" stroke-linecap="round"/>
<line x1="1047.3" y1="845.8" x2="1069.6" y2="845.8" stroke="#000" stroke-width="3" stroke-linecap="round"/>
<line x1="1677.1" y1="1453.9" x2="1699.4" y2="1453.9" stroke="#000" stroke-width="3" stroke-linecap="round"/>
<line x1="1677.1" y1="1410.46" x2="1688.2" y2="1410.46" stroke="#000" stroke-width="3" stroke-linecap="round"/>
<line x1="1677.1" y1="1367.03" x2="1699.4" y2="1367.03" stroke="#000" stroke-width="3" stroke-linecap="round"/>
<line x1="1677.1" y1="1323.59" x2="1688.2" y2="1323.59" stroke="#000" stroke-width="3" stroke-linecap="round"/>
<line x1="1677.1" y1="1280.16" x2="1699.4" y2="1280.16" stroke="#000" stroke-width="3" stroke-linecap="round"/>
<line x1="1677.1" y1="1236.72" x2="1688.2" y2="1236.72" stroke="#000" stroke-width="3" stroke-linecap="round"/>
<line x1="1677.1" y1="1193.29" x2="1699.4" y2="1193.29" stroke="#000" stroke-width="3" stroke-linecap="round"/>
<line x1="1677.1" y1="1149.85" x2="1688.2" y2="1149.85" stroke="#000" stroke-width="3" stroke-linecap="round"/>
<line x1="1677.1" y1="1106.41" x2="1699.4" y2="1106.41" stroke="#000" stroke-width="3" stroke-linecap="round"/>
<line x1="1677.1" y1="1062.98" x2="1688.2" y2="1062.98" stroke="#000" stroke-width="3" stroke-linecap="round"/>
<line x1="1677.1" y1="1019.54" x2="1699.4" y2="1019.54" stroke="#000" stroke-width="3" stroke-linecap="round"/>
<line x1="1677.1" y1="976.11" x2="1688.2" y2="976.11" stroke="#000" stroke-width="3" stroke-linecap="round"/>
<line x1="1677.1" y1="932.67" x2="1699.4" y2="932.67" stroke="#000" stroke-width="3" stroke-linecap="round"/>
<line x1="1677.1" y1="889.24" x2="1688.2" y2="889.24" stroke="#000" stroke-width="3" stroke-linecap="round"/>
<line x1="1677.1" y1="845.8" x2="1699.4" y2="845.8" stroke="#000" stroke-width="3" stroke-linecap="round"/>
<line x1="1068.1" y1="1453.9" x2="1678.6" y2="1453.9" stroke="#000" stroke-width="3" stroke-linecap="butt"/>
<line x1="1068.1" y1="845.8" x2="1678.6" y2="845.8" stroke="#000" stroke-width="3" stroke-linecap="butt"/>
<line x1="1069.6" y1="844.3" x2="1069.6" y2="1455.4" stroke="#000" stroke-width="3" stroke-linecap="butt"/>
<line x1="1677.1" y1="844.3" x2="1677.1" y2="1455.4" stroke="#000" stroke-width="3" stroke-linecap="butt"/>
<text x="1069.6" y="1520.2" font-size="35" text-anchor="middle" fill="#000">2000</text>
<text x="1170.85" y="1520.2" font-size="35" text-anchor="middle" fill="#000">2004</text>
<text x="1272.1" y="1520.2" font-size="35" text-anchor="middle" fill="#000">2008</text>
<text x="1373.35" y="1520.2" font-size="35" text-anchor="middle" fill="#000">2012</text>
<text x="1474.6" y="1520.2" font-size="35" text-anchor="middle" fill="#000">2016</text>
<text x="1575.85" y="1520.2" font-size="35" text-anchor="middle" fill="#000">2020</text>
<text x="1677.1" y="1520.2" font-size="35" text-anchor="middle" fill="#000">2024</text>
<text x="1030.5" y="1463.2" font-size="36" text-anchor="end" fill="#000">0</text>
<text x="1030.5" y="1376.33" font-size="36" text-anchor="end" fill="#000">20</text>
<text x="1030.5" y="1289.46" font-size="36" text-anchor="end" fill="#000">40</text>
<text x="1030.5" y="1202.59" font-size="36" text-anchor="end" fill="#000">60</text>
<text x="1030.5" y="1115.71" font-size="36" text-anchor="end" fill="#000">80</text>
<text x="1030.5" y="1028.84" font-size="36" text-anchor="end" fill="#000">100</text>
<text x="1030.5" y="941.97" font-size="36" text-anchor="end" fill="#000">120</text>
<text x="1030.5" y="855.1" font-size="36" text-anchor="end" fill="#000">140</text>
<line x1="1076.3" y1="869.5" x2="1156" y2="869.5" stroke="#000000" stroke-width="4.2" stroke-linecap="round"/>
<rect x="1107.9" y="862" width="15" height="15" fill="#000000"/>
<text x="1166.5" y="882.5" font-size="36" text-anchor="start" fill="#000">ZnO</text>
<line x1="1076.3" y1="914.1" x2="1156" y2="914.1" stroke="#FF0000" stroke-width="4.2" stroke-linecap="round"/>
<circle cx="1115.4" cy="914.1" r="8.2" fill="#FF0000"/>
<text x="1166.5" y="927.1" font-size="36" text-anchor="start" fill="#000">TiO<tspan font-size="23" dy="12">2</tspan></text>
<line x1="1076.3" y1="969.9" x2="1156" y2="969.9" stroke="#0000FF" stroke-width="4.2" stroke-linecap="round"/>
<path d="M1105.9 961.5L1124.9 961.5L1115.4 978.3Z" fill="#0000FF"/>
<text x="1166.5" y="982.9" font-size="36" text-anchor="start" fill="#000">SnO<tspan font-size="23" dy="12">2</tspan></text>
<text x="1373.35" y="1580.9" font-size="39" text-anchor="middle" fill="#000">Publication Year</text>
<text transform="translate(948 1147.45) rotate(-90)" font-size="38.6" text-anchor="middle">Documents Published per Year (<tspan font-size="0.87em">&#215;</tspan> 10<tspan font-size="0.6em" dy="-0.75em">3</tspan><tspan dy="0.45em" dx="2">)</tspan></text>
<text x="847" y="850.8" font-size="47.2" text-anchor="start" fill="#000">(c)</text>
</g>
</svg>
</body></html>
